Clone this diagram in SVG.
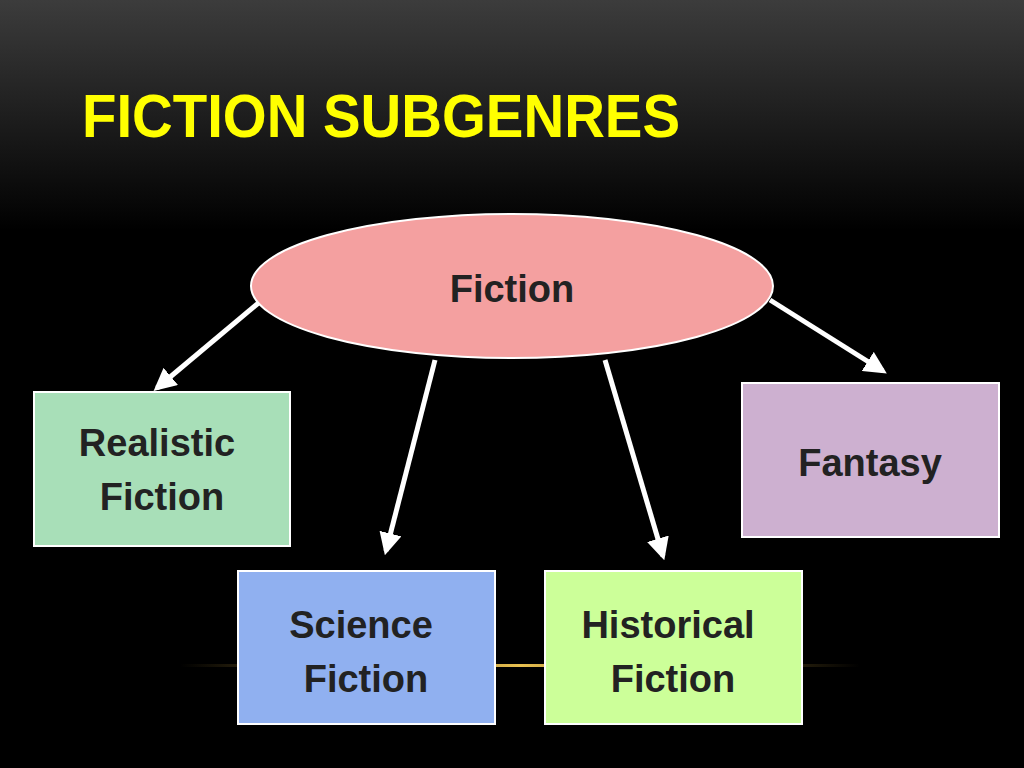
<svg xmlns="http://www.w3.org/2000/svg" width="1024" height="768" viewBox="0 0 1024 768">
<defs>
<linearGradient id="bg" x1="0" y1="0" x2="0" y2="1"><stop offset="0" stop-color="#3c3c3c"/><stop offset="0.3" stop-color="#000"/><stop offset="1" stop-color="#000"/></linearGradient>
<linearGradient id="gold" x1="0" y1="0" x2="1" y2="0"><stop offset="0" stop-color="#c8a040" stop-opacity="0"/><stop offset="0.5" stop-color="#e8c050"/><stop offset="1" stop-color="#c8a040" stop-opacity="0"/></linearGradient>
<marker id="ah" viewBox="0 0 10 10" refX="8" refY="5" markerWidth="4.5" markerHeight="4.5" orient="auto"><path d="M0,0 L10,5 L0,10 z" fill="#fff"/></marker>
</defs>
<style>
.box{stroke:#fff;stroke-width:2}
.t{font-family:"Liberation Sans",Arial,sans-serif;font-weight:bold;font-size:38px;fill:#222;text-anchor:middle}
.c{stroke:#fff;stroke-width:5;fill:none;marker-end:url(#ah)}
</style>
<rect width="1024" height="768" fill="url(#bg)"/>
<rect x="180" y="664" width="680" height="3" fill="url(#gold)"/>
<text x="82" y="137" font-family="Liberation Sans,Arial,sans-serif" font-weight="bold" font-size="62" fill="#ffff00" textLength="598" lengthAdjust="spacingAndGlyphs">FICTION SUBGENRES</text>
<g id="connectors">
<line class="c" x1="262" y1="300" x2="157" y2="388"/>
<line class="c" x1="435" y1="360" x2="386" y2="551"/>
<line class="c" x1="605" y1="360" x2="663" y2="556"/>
<line class="c" x1="770" y1="300" x2="883" y2="371"/>
</g>
<g id="fiction"><ellipse cx="512" cy="286" rx="261" ry="72" fill="#f4a0a0" class="box"/><text class="t" x="512" y="302">Fiction</text></g>
<g id="realistic"><rect x="34" y="392" width="256" height="154" fill="#a8dfb8" class="box"/><text class="t" x="157" y="456">Realistic</text><text class="t" x="162" y="510">Fiction</text></g>
<g id="science"><rect x="238" y="571" width="257" height="153" fill="#90b0f0" class="box"/><text class="t" x="361" y="638">Science</text><text class="t" x="366" y="692">Fiction</text></g>
<g id="historical"><rect x="545" y="571" width="257" height="153" fill="#ccff99" class="box"/><text class="t" x="668" y="638">Historical</text><text class="t" x="673" y="692">Fiction</text></g>
<g id="fantasy"><rect x="742" y="383" width="257" height="154" fill="#cdb0d0" class="box"/><text class="t" x="870" y="476">Fantasy</text></g>
</svg>
